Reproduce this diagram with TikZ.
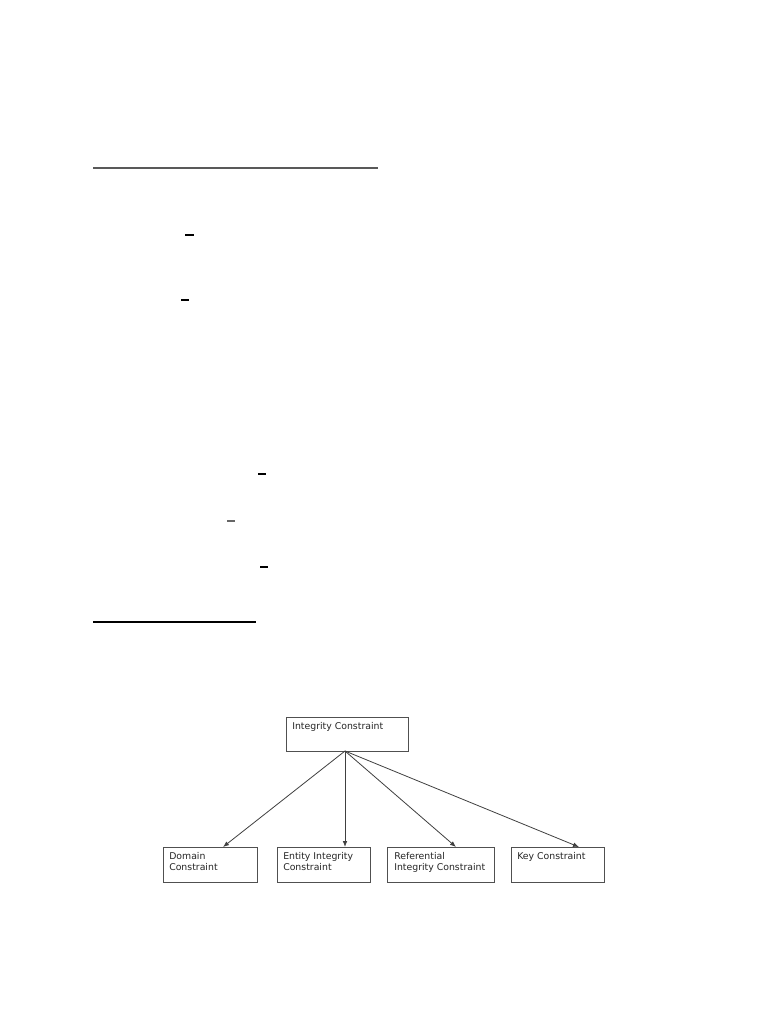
\documentclass[tikz,border=0pt]{standalone}
\usepackage{fontspec}
\setmainfont{DejaVu Sans}
\usetikzlibrary{arrows.meta}
\definecolor{boxgray}{HTML}{505050}
\tikzset{
  box/.style={draw=boxgray, line width=0.8pt, inner sep=0pt, anchor=north west},
  boxtext/.style={font=\fontsize{7}{8.4}\selectfont, text=black!85, align=left, inner sep=0pt},
  conn/.style={draw=black!75, line width=0.6pt, -{Latex[length=4.5pt,width=3.5pt]}},
  rule/.style={line width=1.5pt},
  dashmark/.style={line width=1.2pt}
}
\begin{document}
\begin{tikzpicture}[x=0.75pt,y=-0.75pt]
\useasboundingbox[fill=white] (0,0) rectangle (768,1024);
% page rules and marks
\draw[rule, draw=black!65] (93,168) -- (378,168);
\draw[dashmark] (185,235) -- (194,235);
\draw[dashmark] (181,300) -- (189,300);
\draw[dashmark] (258,474) -- (266,474);
\draw[dashmark, draw=black!60] (227,521) -- (235,521);
\draw[dashmark] (260,567) -- (268,567);
\draw[rule] (93,622) -- (256,622);
% boxes
\node[box, minimum width=122*0.75pt, minimum height=34*0.75pt] (ic) at (286,717) {};
\node[box, minimum width=94*0.75pt, minimum height=35*0.75pt] (dc) at (163,847) {};
\node[box, minimum width=93*0.75pt, minimum height=35*0.75pt] (ec) at (277,847) {};
\node[box, minimum width=107*0.75pt, minimum height=35*0.75pt] (rc) at (387,847) {};
\node[box, minimum width=93*0.75pt, minimum height=35*0.75pt] (kc) at (511,847) {};
% texts
\node[boxtext, anchor=north west] (ict) at (292,722) {Integrity Constraint};
\node[boxtext, anchor=north west] (dct) at (169,852) {Domain\\Constraint};
\node[boxtext, anchor=north west] (ect) at (283,852) {Entity Integrity\\Constraint};
\node[boxtext, anchor=north west] (rct) at (394,852) {Referential\\Integrity Constraint};
\node[boxtext, anchor=north west] (kct) at (517,852) {Key Constraint};
% connectors
\coordinate (src) at (345,751);
\draw[conn] (src) -- (dc.north west -| 223,0);
\draw[conn] (src) -- (ec.north west -| 345,0);
\draw[conn] (src) -- (rc.north west -| 456,0);
\draw[conn] (src) -- (kc.north west -| 579,0);
\end{tikzpicture}
\end{document}
